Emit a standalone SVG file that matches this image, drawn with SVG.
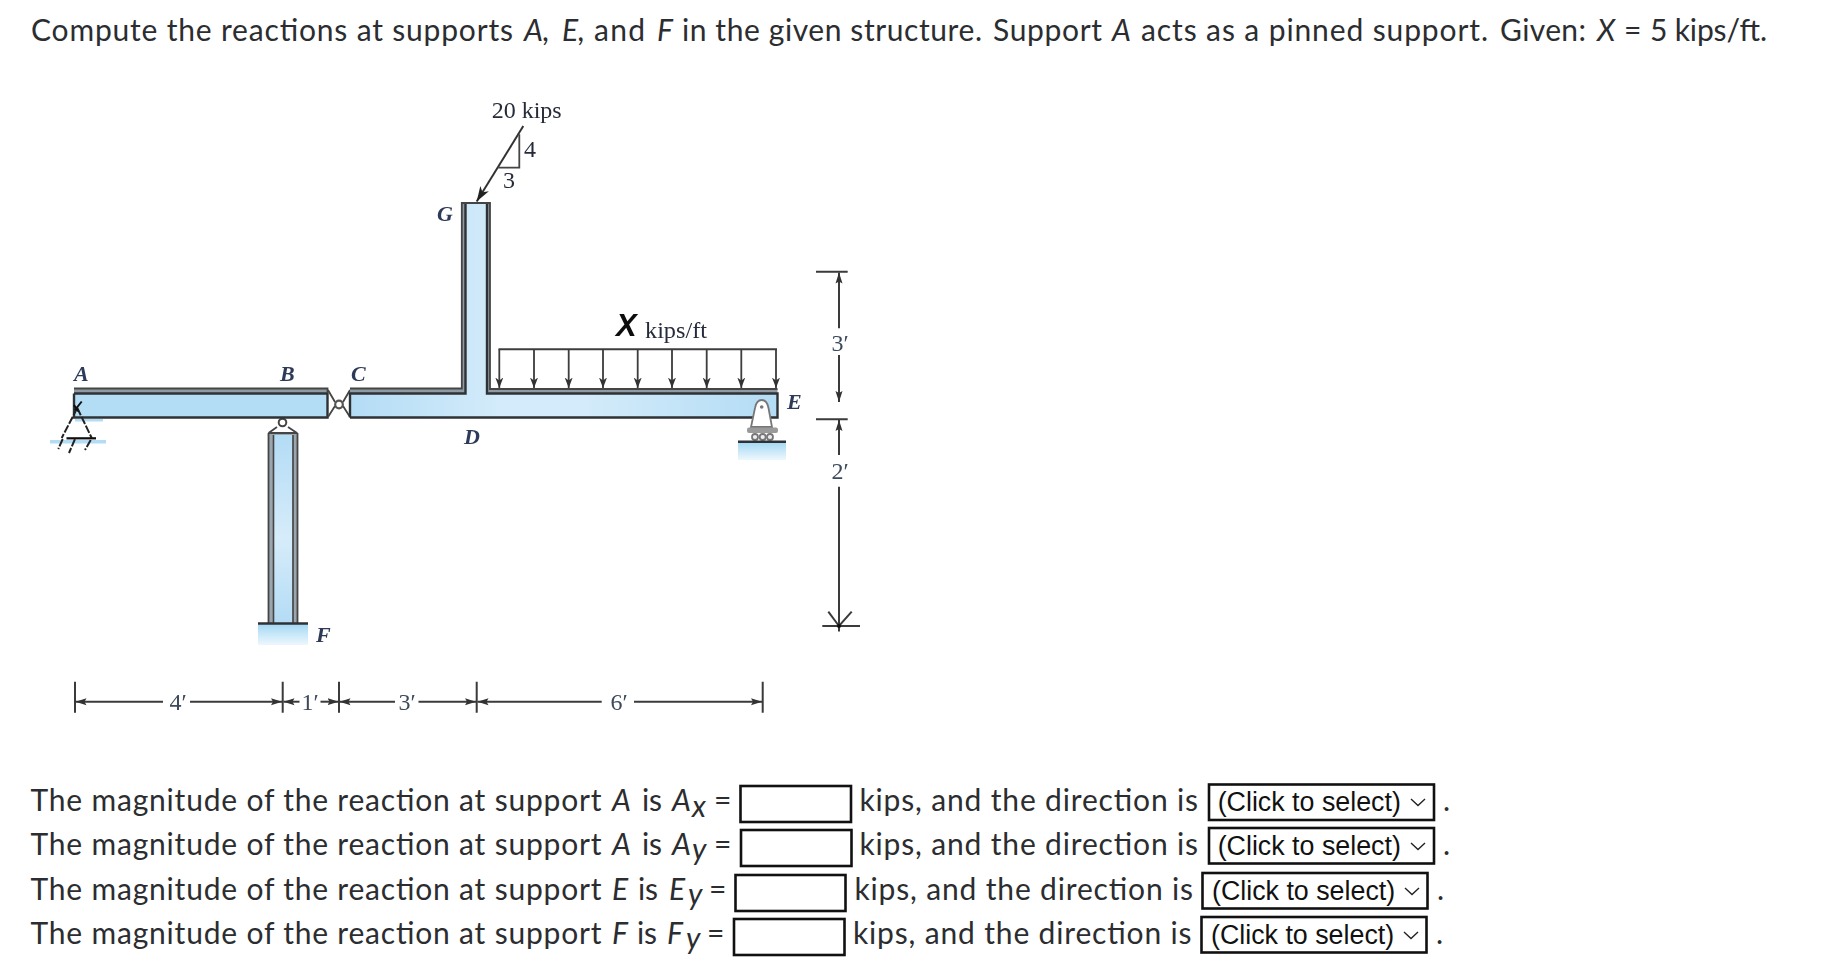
<svg xmlns="http://www.w3.org/2000/svg" width="1826" height="974" viewBox="0 0 1826 974">
<style>
.t{font-family:"Lato","Open Sans","Liberation Sans",sans-serif;font-size:30px;fill:#2b2d30}
.i{font-style:italic}
.sel{font-family:"Liberation Sans",Arial,sans-serif;font-size:26.8px;fill:#111}
.box{fill:#fff;stroke:#111;stroke-width:2.6}
.chev{fill:none;stroke:#222;stroke-width:1.4}
.lab{font-family:"Liberation Serif","Times New Roman",serif;font-size:22px;font-style:italic;font-weight:bold;fill:#2e3a58}
.num{font-family:"Liberation Serif","Times New Roman",serif;font-size:24px;fill:#262c3a}
.dim{font-family:"Liberation Serif","Times New Roman",serif;font-size:24px;fill:#3d4a5c;text-anchor:middle}
.edge{fill:none;stroke:#2e3236;stroke-width:2.4}
.band{fill:#8f9aa2}
.thin{fill:none;stroke:#444;stroke-width:1.8}
.dl{fill:none;stroke:#3a3a3a;stroke-width:2}
.ld{fill:none;stroke:#3c3c3c;stroke-width:1.8;marker-end:url(#ah)}
.ground{fill:url(#gnd)}
.gl{stroke:#2e3236;stroke-width:2.4}
.hatch{stroke:#222;stroke-width:2;stroke-dasharray:8 1.8;fill:none}
</style>
<defs>
<marker id="ah" markerUnits="userSpaceOnUse" markerWidth="11" markerHeight="9" refX="10.5" refY="4" orient="auto" viewBox="0 0 11 8"><path d="M0 0L3 4L0 8L10.5 4Z" fill="#333"/></marker>
<marker id="dh" markerUnits="userSpaceOnUse" markerWidth="12" markerHeight="8" refX="11" refY="3.5" orient="auto-start-reverse" viewBox="0 0 12 7"><path d="M0 0L11 3.5L0 7L2 3.5Z" fill="#333"/></marker>
<marker id="fh" markerUnits="userSpaceOnUse" markerWidth="16" markerHeight="10" refX="15" refY="5" orient="auto" viewBox="0 0 16 10"><path d="M0 0L15 5L0 10L4 5Z" fill="#222"/></marker>
<linearGradient id="tg" gradientUnits="userSpaceOnUse" x1="349" y1="0" x2="778" y2="0"><stop offset="0" stop-color="#b3dcf5"/><stop offset=".35" stop-color="#d3ebfa"/><stop offset=".55" stop-color="#d3ebfa"/><stop offset="1" stop-color="#b3dcf5"/></linearGradient>
<linearGradient id="fg" x1="0" y1="0" x2="0" y2="1"><stop offset="0" stop-color="#b3dcf5"/><stop offset=".55" stop-color="#d6ecfa"/><stop offset="1" stop-color="#b3dcf5"/></linearGradient>
<linearGradient id="gnd" x1="0" y1="0" x2="0" y2="1"><stop offset="0" stop-color="#a3d8f4"/><stop offset="1" stop-color="#eef8fd"/></linearGradient>
<filter id="soft" x="-2%" y="-2%" width="104%" height="104%"><feGaussianBlur stdDeviation="0.55"/></filter>
</defs>
<rect width="1826" height="974" fill="#fff"/>

<g id="question">
<text class="t" x="31" y="41" textLength="482" lengthAdjust="spacing">Compute the reactions at supports</text>
<text class="t i" x="524" y="41">A,</text>
<text class="t i" x="562" y="41">E,</text>
<text class="t" x="594" y="41" textLength="51">and</text>
<text class="t i" x="657" y="41">F</text>
<text class="t" x="682" y="41" textLength="300">in the given structure.</text>
<text class="t" x="993" y="41" textLength="109">Support</text>
<text class="t i" x="1112" y="41">A</text>
<text class="t" x="1141" y="41" textLength="347">acts as a pinned support.</text>
<text class="t" x="1500" y="41" textLength="86">Given:</text>
<text class="t i" x="1597" y="41">X</text>
<text class="t" x="1624" y="41">=</text>
<text class="t" x="1650" y="41" textLength="117">5 kips/ft.</text>
</g>

<g filter="url(#soft)">
<g id="column-F">
<rect x="268.5" y="433" width="29" height="190" fill="#9aa5ad"/>
<rect x="273.5" y="435" width="19" height="188" fill="url(#fg)"/>
<path d="M273.5 435V623M293 435V623" fill="none" stroke="#444" stroke-width="1.6"/>
<path class="thin" d="M268.5 433V623M297.5 433V623" stroke-width="1.4"/>
<path class="thin" d="M268.5 433L277 427M297 433L288 427M268.5 433H297.5"/>
<circle cx="282.5" cy="422.5" r="3.8" fill="#fff" stroke="#444" stroke-width="2"/>
<rect class="ground" x="258" y="624" width="50" height="21"/>
<line class="gl" x1="258" y1="623.5" x2="308" y2="623.5"/>
<text class="lab" x="316" y="642">F</text>
</g>

<g id="beam-AB">
<rect x="74" y="388.5" width="253.5" height="5" class="band"/>
<rect x="74.5" y="393" width="253" height="24" fill="#b3dcf5"/>
<path class="edge" d="M74 393.5H327.5V417.5H74V393.5"/>
<path class="thin" d="M74 388.5H327.5V393" stroke-width="1.4"/>
<text class="lab" x="74" y="381">A</text>
<text class="lab" x="280" y="381">B</text>
</g>

<g id="hinge-C">
<path class="thin" d="M328 390L335 402M328 417L335 406M350 390L343 402M350 417L343 406" stroke="#555"/>
<circle cx="339" cy="404.5" r="3.8" fill="#fff" stroke="#555" stroke-width="2.2"/>
<text class="lab" x="351" y="381">C</text>
</g>

<g id="member-GDE">
<path d="M466 203H487V393.5H777.5V417.5H350V393.5H466Z" fill="url(#tg)"/>
<path d="M350 388.5H462V203H466V393.5H350ZM487 203H490V389H777.5V393.5H487Z" class="band"/>
<path class="edge" d="M350 417.5V393.5H465.5V203M487 203V393.5H777.5V417.5H350"/>
<path class="thin" d="M350 388.5H461.8V203H490V389H777.5" stroke-width="1.4"/>
<text class="lab" x="437" y="221">G</text>
<text class="lab" x="464" y="444">D</text>
<text class="lab" x="787" y="409">E</text>
</g>

<g id="support-A">
<rect x="75" y="419" width="28" height="2.5" fill="#b3dcf5"/>
<rect x="50" y="440" width="56" height="3.5" fill="#b3dcf5"/>
<path class="hatch" d="M77.3 408L61.7 438M77.3 408L91.7 438"/>
<path d="M81.7 401.5L75 410M74 405L78.5 411.5" stroke="#111" stroke-width="2" fill="none"/>
<line x1="66.5" y1="438.3" x2="96" y2="438.3" stroke="#111" stroke-width="2.2"/>
<path class="hatch" d="M62.7 439L58.3 449M75 439L69 453M90.7 440L85 450"/>
</g>

<g id="support-E">
<path d="M751 427L755 408Q756.5 400 761.7 400Q767 400 768.5 408L772 427Z" fill="#fff" stroke="#777" stroke-width="1.8"/>
<circle cx="761.7" cy="407" r="1.8" fill="#777"/>
<rect x="747" y="427.5" width="31" height="5.5" rx="2" fill="#9a9a9a"/>
<g fill="#eee" stroke="#777" stroke-width="1.8"><circle cx="755" cy="437" r="3"/><circle cx="762.7" cy="437" r="3"/><circle cx="770" cy="437" r="3"/></g>
<rect class="ground" x="738" y="442" width="48" height="18"/>
<line class="gl" x1="738" y1="441.7" x2="786" y2="441.7"/>
</g>

<g id="connectors">
<g id="load-20-kips">
<line x1="523.3" y1="126" x2="476.7" y2="201.5" stroke="#333" stroke-width="2" marker-end="url(#fh)"/>
<path class="thin" d="M519.3 134.3V167.7H498.3"/>
<text class="num" x="491.7" y="118.3">20 kips</text>
<text class="num" x="524" y="156.7">4</text>
<text class="num" x="503" y="188">3</text>
</g>
<g id="load-distributed">
<line x1="498.5" y1="349.3" x2="777" y2="349.3" stroke="#3c3c3c" stroke-width="2"/>
<path class="ld" d="M499.3 349.3V388"/><path class="ld" d="M534 349.3V388"/><path class="ld" d="M568.7 349.3V388"/>
<path class="ld" d="M603 349.3V388"/><path class="ld" d="M637.7 349.3V388"/><path class="ld" d="M672 349.3V388"/>
<path class="ld" d="M706.7 349.3V388"/><path class="ld" d="M741.3 349.3V388"/><path class="ld" d="M776 349.3V388"/>
<text x="616" y="336" font-family="Liberation Sans, Arial, sans-serif" font-size="31" font-weight="bold" font-style="italic" fill="#111">X</text>
<text class="num" x="645" y="338" textLength="62" lengthAdjust="spacingAndGlyphs">kips/ft</text>
</g>
<g id="dimensions-horizontal">
<path class="dl" d="M75 681.7V712.7M282.7 681.7V712.7M339 681.7V712.7M476.7 681.7V712.7M762.7 681.7V712.7"/>
<path class="dl" marker-start="url(#dh)" d="M75.5 701.7H163"/>
<path class="dl" marker-end="url(#dh)" d="M190 701.7H282"/>
<path class="dl" marker-start="url(#dh)" d="M283.5 701.7H299.5"/>
<path class="dl" marker-end="url(#dh)" d="M320.5 701.7H338.5"/>
<path class="dl" marker-start="url(#dh)" d="M339.5 701.7H395"/>
<path class="dl" marker-end="url(#dh)" d="M418.5 701.7H476"/>
<path class="dl" marker-start="url(#dh)" d="M477.5 701.7H601.7"/>
<path class="dl" marker-end="url(#dh)" d="M634 701.7H762"/>
<text class="dim" x="178" y="710">4′</text>
<text class="dim" x="310" y="710">1′</text>
<text class="dim" x="407" y="710">3′</text>
<text class="dim" x="619" y="710">6′</text>
</g>
<g id="dimensions-vertical">
<path class="dl" d="M816 271.7H847.7M816 419.3H847.7M822.3 626H860"/>
<path class="dl" marker-start="url(#dh)" d="M839 272.5V328.3"/>
<path class="dl" marker-end="url(#dh)" d="M839 355V402"/>
<path class="dl" marker-start="url(#dh)" d="M839 420V455"/>
<path class="dl" d="M839 486.7V631.5M828.3 611.7L839 626L851.7 611.7"/>
<circle cx="839" cy="626" r="2" fill="#111"/>
<text class="dim" x="840" y="350.7">3′</text>
<text class="dim" x="840" y="479.3">2′</text>
</g>
</g>
</g>

<g id="answer-row-1">
<text class="t" x="30.5" y="811" textLength="571">The magnitude of the reaction at support</text>
<text class="t i" x="612" y="811">A</text><text class="t" x="642" y="811" textLength="20">is</text>
<text class="t i" x="672" y="811">A</text><text class="t i" x="692" y="817" font-size="29">x</text><text class="t" x="714" y="811">=</text>
<rect class="box" x="740.5" y="786" width="110.5" height="36"/>
<text class="t" x="859.5" y="811" textLength="338.5">kips, and the direction is</text>
<rect class="box" x="1209" y="784.5" width="225" height="35.5"/>
<text class="sel" x="1217.7" y="810.5">(Click to select)</text><path class="chev" d="M1411 799L1418 805.5L1425 799"/>
<text class="t" x="1443" y="811">.</text>
</g>
<g id="answer-row-2">
<text class="t" x="30.5" y="855" textLength="571">The magnitude of the reaction at support</text>
<text class="t i" x="612" y="855">A</text><text class="t" x="642" y="855" textLength="20">is</text>
<text class="t i" x="672" y="855">A</text><text class="t i" x="692" y="860" font-size="29">y</text><text class="t" x="714" y="855">=</text>
<rect class="box" x="741" y="830" width="110.5" height="36"/>
<text class="t" x="859.5" y="855" textLength="338.5">kips, and the direction is</text>
<rect class="box" x="1209" y="828" width="225" height="35.5"/>
<text class="sel" x="1217.7" y="854.5">(Click to select)</text><path class="chev" d="M1411 843L1418 849.5L1425 843"/>
<text class="t" x="1443" y="855">.</text>
</g>
<g id="answer-row-3">
<text class="t" x="30.5" y="900" textLength="571">The magnitude of the reaction at support</text>
<text class="t i" x="612" y="900">E</text><text class="t" x="638" y="900" textLength="20">is</text>
<text class="t i" x="669" y="900">E</text><text class="t i" x="688" y="905" font-size="29">y</text><text class="t" x="709" y="900">=</text>
<rect class="box" x="735.5" y="875" width="110" height="36"/>
<text class="t" x="854.5" y="900" textLength="338.5">kips, and the direction is</text>
<rect class="box" x="1202.5" y="873" width="225" height="35.5"/>
<text class="sel" x="1212" y="899.5">(Click to select)</text><path class="chev" d="M1405 888L1412 894.5L1419 888"/>
<text class="t" x="1437" y="900">.</text>
</g>
<g id="answer-row-4">
<text class="t" x="30.5" y="944" textLength="571">The magnitude of the reaction at support</text>
<text class="t i" x="612" y="944">F</text><text class="t" x="637" y="944" textLength="20">is</text>
<text class="t i" x="667" y="944">F</text><text class="t i" x="686" y="949" font-size="29">y</text><text class="t" x="707" y="944">=</text>
<rect class="box" x="734" y="919" width="110.5" height="36"/>
<text class="t" x="853" y="944" textLength="338.5">kips, and the direction is</text>
<rect class="box" x="1201.5" y="917" width="225" height="35.5"/>
<text class="sel" x="1211" y="943.5">(Click to select)</text><path class="chev" d="M1404 932L1411 938.5L1418 932"/>
<text class="t" x="1436" y="944">.</text>
</g>
</svg>
